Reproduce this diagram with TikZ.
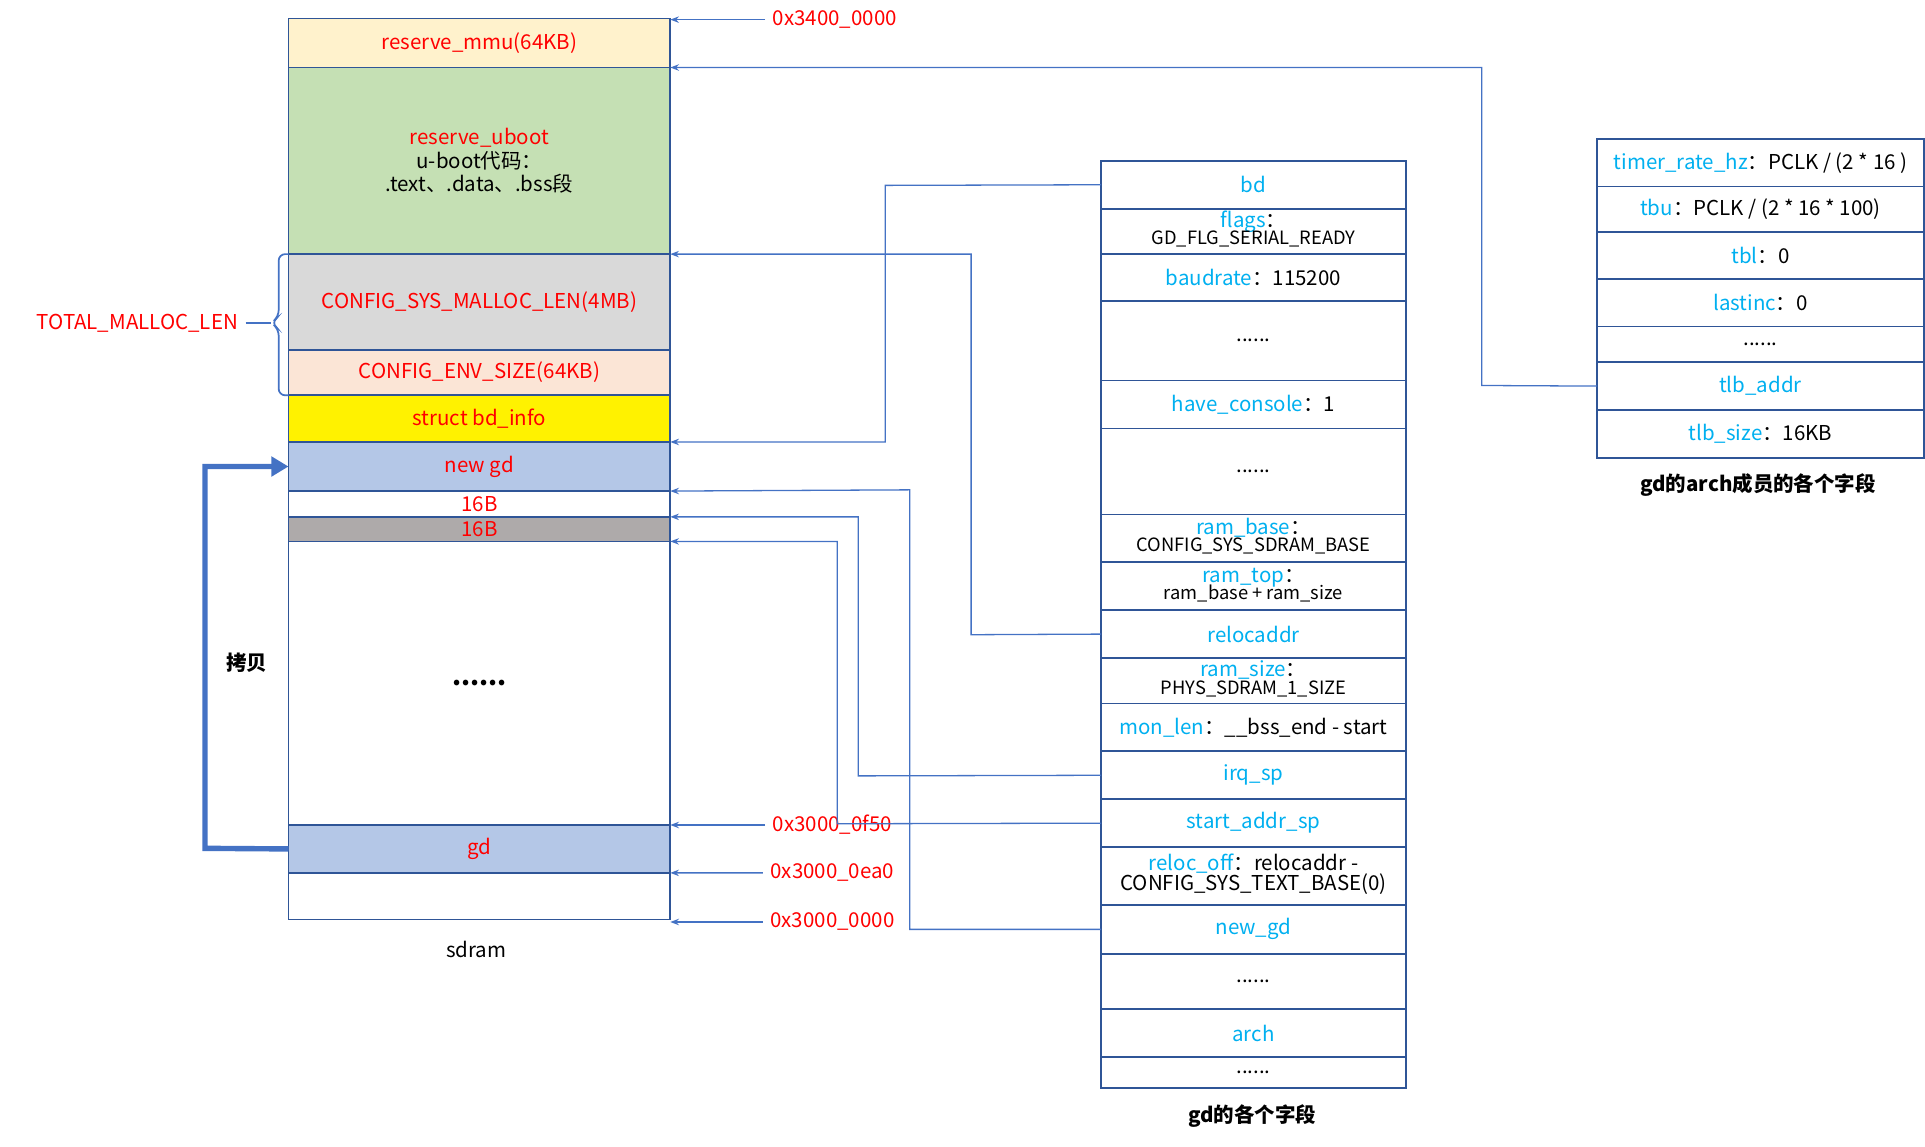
\documentclass[tikz,border=0pt]{standalone}
\usepackage{fontspec}
\setmainfont{Noto Sans CJK SC}
\usetikzlibrary{arrows.meta}
\definecolor{kc}{HTML}{00B0F0}
\definecolor{bord}{HTML}{2F5597}
\definecolor{lnk}{HTML}{4472C4}
\definecolor{cmmu}{HTML}{FFF2CC}
\definecolor{cuboot}{HTML}{C5E0B4}
\definecolor{cmalloc}{HTML}{D9D9D9}
\definecolor{cenv}{HTML}{FBE5D6}
\definecolor{cgd}{HTML}{B4C7E7}
\definecolor{cgray}{HTML}{AEAAAA}
\newcommand\kk[1]{\textcolor{kc}{#1}}
% cell: name, x0, y0, x1, y1, fill, text
\newcommand\cell[7]{\node[cell,fill=#6,minimum width={(#4-#2)*0.02cm},minimum height={(#5-#3)*0.02cm}] (#1) at ({(#2+#4)/2},{(#3+#5)/2}) {#7};}
\begin{document}
\begin{tikzpicture}[x=0.02cm,y=-0.02cm,
  cell/.style={draw=bord,line width=0.8pt,inner sep=0pt,outer sep=0pt,align=center,font=\fontsize{9.5}{11}\selectfont},
  sm/.style={font=\fontsize{8.5}{9.5}\selectfont},
  lbl/.style={text=red,font=\fontsize{9.5}{11}\selectfont},
  link/.style={draw=lnk,line width=0.6pt,-{Stealth[length=4pt,width=3pt]}}]
\useasboundingbox (0,0) rectangle (1568,933.5);
% sdram column
\cell{mmu}{235}{15}{546}{55}{cmmu}{\textcolor{red}{reserve\_mmu(64KB)}}
\cell{uboot}{235}{55}{546}{207}{cuboot}{\textcolor{red}{reserve\_uboot}\\u-boot代码：\\.text、.data、.bss段}
\cell{malloc}{235}{207}{546}{285}{cmalloc}{\textcolor{red}{CONFIG\_SYS\_MALLOC\_LEN(4MB)}}
\cell{env}{235}{285}{546}{322}{cenv}{\textcolor{red}{CONFIG\_ENV\_SIZE(64KB)}}
\cell{bdinfo}{235}{322}{546}{360}{yellow}{\textcolor{red}{struct bd\_info}}
\cell{newgd}{235}{360}{546}{400}{cgd}{\textcolor{red}{new gd}}
\cell{pad1}{235}{400}{546}{421}{white}{\textcolor{red}{16B}}
\cell{pad2}{235}{421}{546}{441}{cgray}{\textcolor{red}{16B}}
\cell{dots}{235}{441}{546}{672}{white}{\textbf{\large ......}}
\cell{gd}{235}{672}{546}{711}{cgd}{\textcolor{red}{gd}}
\cell{bot}{235}{711}{546}{749}{white}{}
\node[font=\fontsize{9.5}{11}\selectfont] (sdram) at (388,773) {sdram};
% brace + label
\node[lbl,anchor=east] (total) at (200,263) {TOTAL\_MALLOC\_LEN};
\coordinate (btip) at (221,263);
\draw[lnk,line width=0.8pt,rounded corners=3pt] (malloc.north west) -| (227,258) -- (btip) -- (227,268) |- (env.south west);
\draw[lnk,line width=0.8pt] (total.east) -- (btip);
% copy arrow
\coordinate (cpa) at (167,691);
\coordinate (cpb) at (167,380);
\draw[lnk,line width=2.5pt,-{Triangle[length=8pt,width=9pt]}] (gd.west) -- (cpa) -- (cpb) -- (newgd.west);
\node[font=\fontsize{9.5}{11}\selectfont\bfseries] (copy) at (201,540) {拷贝};
% addresses
\node[lbl] (a1) at (680,16) {0x3400\_0000};
\node[lbl] (a2) at (678,672) {0x3000\_0f50};
\node[lbl] (a3) at (678,711) {0x3000\_0ea0};
\node[lbl] (a4) at (678,751) {0x3000\_0000};
\draw[link] (a1.west) -- (546,16);
\draw[link] (a2.west) -- (gd.north east);
\draw[link] (a3.west) -- (gd.south east);
\draw[link] (a4.west) -- (546,751);
% gd fields
\cell{fbd}{897}{131}{1145}{170}{white}{\kk{bd}}
\cell{fflags}{897}{170}{1145}{207}{white}{\begin{tabular}{@{}c@{}}\kk{flags}：\\[-3pt]\fontsize{8.5}{9.5}\selectfont GD\_FLG\_SERIAL\_READY\end{tabular}}
\cell{fbaud}{897}{207}{1145}{245}{white}{\kk{baudrate}：115200}
\cell{fd1}{897}{245}{1145}{310}{white}{......}
\cell{fcons}{897}{310}{1145}{349}{white}{\kk{have\_console}：1}
\cell{fd2}{897}{349}{1145}{419}{white}{......}
\cell{fbase}{897}{419}{1145}{458}{white}{\begin{tabular}{@{}c@{}}\kk{ram\_base}：\\[-3pt]\fontsize{8.5}{9.5}\selectfont CONFIG\_SYS\_SDRAM\_BASE\end{tabular}}
\cell{ftop}{897}{458}{1145}{497}{white}{\begin{tabular}{@{}c@{}}\kk{ram\_top}：\\[-3pt]\fontsize{8.5}{9.5}\selectfont ram\_base + ram\_size\end{tabular}}
\cell{freloc}{897}{497}{1145}{536}{white}{\kk{relocaddr}}
\cell{fsize}{897}{536}{1145}{573}{white}{\begin{tabular}{@{}c@{}}\kk{ram\_size}：\\[-3pt]\fontsize{8.5}{9.5}\selectfont PHYS\_SDRAM\_1\_SIZE\end{tabular}}
\cell{fmon}{897}{573}{1145}{612}{white}{\kk{mon\_len}：\_\_bss\_end - start}
\cell{firq}{897}{612}{1145}{651}{white}{\kk{irq\_sp}}
\cell{fstart}{897}{651}{1145}{690}{white}{\kk{start\_addr\_sp}}
\cell{foff}{897}{690}{1145}{737}{white}{\begin{tabular}{@{}c@{}}\kk{reloc\_off}：relocaddr -\\[-2pt]CONFIG\_SYS\_TEXT\_BASE(0)\end{tabular}}
\cell{fnewgd}{897}{737}{1145}{777}{white}{\kk{new\_gd}}
\cell{fd3}{897}{777}{1145}{822}{white}{......}
\cell{farch}{897}{822}{1145}{861}{white}{\kk{arch}}
\cell{fd4}{897}{861}{1145}{886}{white}{......}
\node[font=\fontsize{9.5}{11}\selectfont\bfseries] (gdcap) at (1020,909) {gd的各个字段};
% arch fields
\cell{ahz}{1301}{113}{1567}{152}{white}{\kk{timer\_rate\_hz}：PCLK / (2 * 16 )}
\cell{atbu}{1301}{152}{1567}{189}{white}{\kk{tbu}：PCLK / (2 * 16 * 100)}
\cell{atbl}{1301}{189}{1567}{227}{white}{\kk{tbl}：0}
\cell{alast}{1301}{227}{1567}{266}{white}{\kk{lastinc}：0}
\cell{ad}{1301}{266}{1567}{295}{white}{......}
\cell{atlb}{1301}{295}{1567}{334}{white}{\kk{tlb\_addr}}
\cell{atsz}{1301}{334}{1567}{373}{white}{\kk{tlb\_size}：16KB}
\node[font=\fontsize{9.5}{11}\selectfont\bfseries] (archcap) at (1432,395) {gd的arch成员的各个字段};
% links
\draw[link] (fbd.west) -- (721,151) -- (721,360) -- (bdinfo.south east);
\draw[link] (freloc.west) -- (791,517) -- (791,207) -- (malloc.north east);
\draw[link] (firq.west) -- (699,632) -- (699,421) -- (pad2.north east);
\draw[link] (fstart.west) -- (682,671) -- (682,441) -- (pad2.south east);
\draw[link] (fnewgd.west) -- (741,757) -- (741,399) -- (pad1.north east);
\draw[link] (atlb.west) -- (1207,314) -- (1207,55) -- (uboot.north east);
\end{tikzpicture}
\end{document}
